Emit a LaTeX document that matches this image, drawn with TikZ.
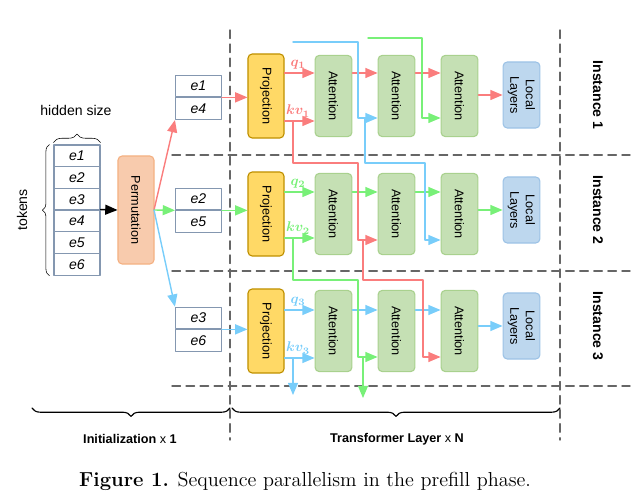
\documentclass[tikz,border=0pt]{standalone}
\usepackage{amsmath}
\usepackage{bm}
\usepackage{fontspec}
\newfontfamily\arialfont{Liberation Sans}
\usetikzlibrary{arrows,calc,positioning,decorations.pathreplacing}
\definecolor{redline}{RGB}{250,125,125}
\definecolor{greenline}{RGB}{120,240,120}
\definecolor{blueline}{RGB}{120,205,250}
\definecolor{projfill}{RGB}{255,217,102}
\definecolor{projdraw}{RGB}{191,144,0}
\definecolor{attnfill}{RGB}{197,224,180}
\definecolor{attndraw}{RGB}{169,209,142}
\definecolor{localfill}{RGB}{189,215,238}
\definecolor{localdraw}{RGB}{157,195,230}
\definecolor{permfill}{RGB}{248,203,173}
\definecolor{permdraw}{RGB}{244,177,131}
\definecolor{cellline}{RGB}{132,151,176}
\tikzset{
  box/.style={rounded corners=3pt,line width=0.8pt,inner sep=0pt,font=\arialfont\small,rotate=-90},
  proj/.style={box,fill=projfill,draw=projdraw,minimum width=2.1cm,minimum height=0.9cm},
  attn/.style={box,fill=attnfill,draw=attndraw,minimum width=2.03cm,minimum height=0.92cm},
  local/.style={box,fill=localfill,draw=localdraw,minimum width=1.65cm,minimum height=0.92cm,align=center},
  cell/.style={draw=cellline,line width=0.8pt,fill=white,minimum width=1.15cm,minimum height=0.54cm,inner sep=0pt,font=\arialfont\itshape},
  sep/.style={dashed,dash pattern=on 6pt off 4pt,line width=1pt,color=gray!80!black},
  flow/.style={->,line width=1pt},
}
\begin{document}
\begin{tikzpicture}[line cap=round,line join=round,>=triangle 45,x=0.025cm,y=-0.025cm]
\useasboundingbox (0,0) rectangle (632,497);
% separators
\draw[sep] (230,30) -- (230,440);
\draw[sep] (560,30) -- (560,440);
\draw[sep] (172,155) -- (630,155);
\draw[sep] (172,271) -- (630,271);
\draw[sep] (172,386) -- (630,386);
% token stack
\foreach \i in {1,...,6}
  \node[cell] (t\i) at (77,{145+21.7*(\i-0.5)}) {e\i};
\draw[decorate,decoration={brace,amplitude=6pt}] ($(t1.north west)+(0,-2)$) -- ($(t1.north east)+(0,-2)$);
\node[font=\arialfont] (hidden) at (76,110) {hidden size};
\draw[decorate,decoration={brace,amplitude=5pt}] ($(t6.south west)+(-4,0)$) -- ($(t1.north west)+(-4,0)$);
\node[font=\arialfont,rotate=90] (tokens) at (22,210) {tokens};
\node[box,fill=permfill,draw=permdraw,minimum width=2.7cm,minimum height=0.9cm] (perm) at (136,210) {Permutation};
\coordinate (tin) at (t4.north east);
\draw[flow,black] (tin) -- (perm.south);
% groups
\node[cell] (g1a) at (198.5,86) {e1};
\node[cell,below=0pt of g1a] (g1b) {e4};
\node[cell] (g2a) at (198.5,199) {e2};
\node[cell,below=0pt of g2a] (g2b) {e5};
\node[cell] (g3a) at (198.5,318) {e3};
\node[cell,below=0pt of g3a] (g3b) {e6};
\coordinate (pout) at (154,210);
\draw[flow,redline] (pout) -- (g1b.south west);
\draw[flow,greenline] (pout) -- (g2a.south west);
\draw[flow,blueline] (pout) -- (g3a.north west);
% instances
\foreach \r/\y/\c/\ly in {1/96/redline/95,2/214/greenline/210,3/331/blueline/326}{
  \node[proj] (p\r) at (266,\y) {Projection};
  \node[attn] (a\r1) at (333.5,\y) {Attention};
  \node[attn] (a\r2) at (396.5,\y) {Attention};
  \node[attn] (a\r3) at (459.5,\y) {Attention};
  \node[local] (l\r) at (521.5,\ly) {Local\\Layers};
  \node[font=\arialfont\bfseries,rotate=-90] (inst\r) at (598,\ly) {Instance \r};
  \draw[flow,\c] (a\r3.north|-l\r.center) -- (l\r.south);
}
\draw[flow,redline] (g1b.north east) -- (p1.south|-g1b.north east);
\draw[flow,greenline] (g2b.north east) -- (p2.south|-g2b.north east);
\draw[flow,blueline] (g3b.north east) -- (p3.south|-g3b.north east);
% q and kv arrows
\foreach \r/\q/\k/\c in {1/73/121/redline,2/192/238/greenline,3/310/358/blueline}{
  \draw[flow,\c] (p\r.north|-0,\q) -- (a\r1.south|-0,\q) node[pos=0.45,above=-1pt] {$\bm{q_\r}$};
  \draw[flow,\c] (p\r.north|-0,\k) -- (a\r1.south|-0,\k) node[pos=0.45,above=-1pt] {$\bm{kv_\r}$};
  \draw[flow,\c] (a\r1.north|-0,\q) -- (a\r2.south|-0,\q);
  \draw[flow,\c] (a\r2.north|-0,\q) -- (a\r3.south|-0,\q);
}
% ring exchange of kv
\coordinate (gd) at (363,398);
\coordinate (bd) at (293,395);
\draw[flow,redline] (293,121) |- (358,163) |- (a22.south|-0,240);
\draw[flow,redline] (363,240) |- (423,280) |- (a33.south|-0,357);
\draw[flow,greenline] (293,238) |- (358,280) |- (a32.south|-0,357);
\draw[flow,greenline] (363,357) -- (gd);
\draw[flow,greenline] (368,38) -| (422,118) -- (a13.south|-0,118);
\draw[flow,blueline] (293,358) -- (bd);
\draw[flow,blueline] (293,42) -| (358,118) -- (a12.south|-0,118);
\draw[flow,blueline] (365,118) |- (425,163) |- (a23.south|-0,240);
% bottom braces
\draw[decorate,decoration={brace,amplitude=6pt,mirror},line width=0.8pt] (32,408) -- (230,408);
\draw[decorate,decoration={brace,amplitude=6pt,mirror},line width=0.8pt] (232,408) -- (560,408);
\node[font=\arialfont\small\bfseries] (init) at (130,439) {Initialization {\mdseries x} 1};
\node[font=\arialfont\small\bfseries] (trans) at (397,439) {Transformer Layer {\mdseries x} N};
\node[font=\Large] (cap) at (305,481) {\textbf{Figure 1.} Sequence parallelism in the prefill phase.};
\end{tikzpicture}
\end{document}
